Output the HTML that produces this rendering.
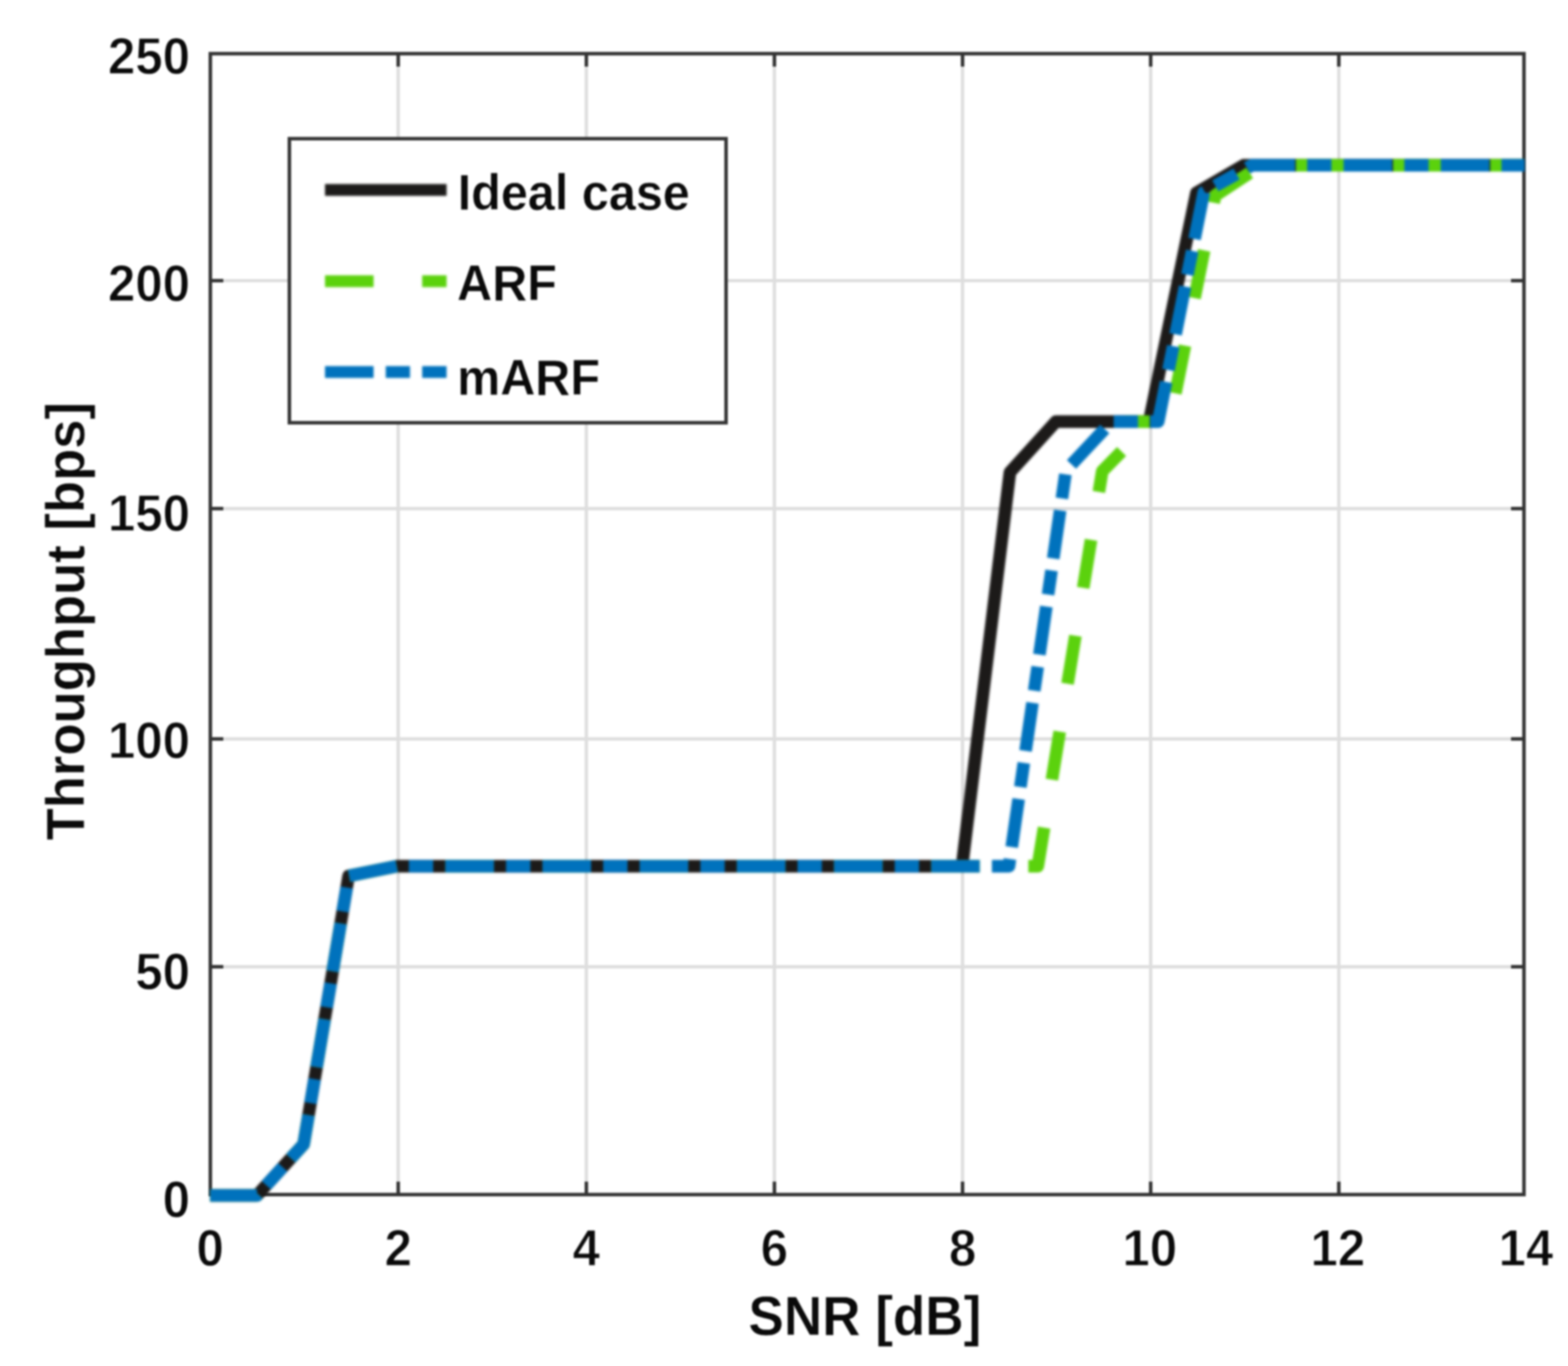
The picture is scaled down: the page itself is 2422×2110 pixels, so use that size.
<!DOCTYPE html>
<html lang="en"><head><meta charset="utf-8"><title>Throughput vs SNR</title>
<style>
html,body{margin:0;padding:0;background:#fff;}
body{width:2422px;height:2110px;overflow:hidden;}
svg{display:block;font-family:"Liberation Sans", Arial, Helvetica, sans-serif;font-weight:bold;fill:#0a0a0a;filter:blur(1.5px);}
text{stroke:#ffffff;stroke-width:0.6px;stroke-linejoin:round;}
text.t{stroke-width:1.2px;}
</style></head><body>
<svg width="2422" height="2110" viewBox="0 0 2422 2110">
<rect x="0" y="0" width="2422" height="2110" fill="#ffffff"/>
<g stroke="#dedede" stroke-width="5.2" fill="none">
<line x1="615.1" y1="82.9" x2="615.1" y2="1845.2"/>
<line x1="905.7" y1="82.9" x2="905.7" y2="1845.2"/>
<line x1="1196.2" y1="82.9" x2="1196.2" y2="1845.2"/>
<line x1="1486.8" y1="82.9" x2="1486.8" y2="1845.2"/>
<line x1="1777.4" y1="82.9" x2="1777.4" y2="1845.2"/>
<line x1="2068.0" y1="82.9" x2="2068.0" y2="1845.2"/>
<line x1="324.9" y1="1493.3" x2="2354.0" y2="1493.3"/>
<line x1="324.9" y1="1141.4" x2="2354.0" y2="1141.4"/>
<line x1="324.9" y1="785.6" x2="2354.0" y2="785.6"/>
<line x1="324.9" y1="433.5" x2="2354.0" y2="433.5"/>
</g>
<g stroke="#333333" stroke-width="5.4" fill="none">
<rect x="324.9" y="82.9" width="2029.1" height="1762.3"/>
<line x1="615.1" y1="1845.2" x2="615.1" y2="1825.2"/>
<line x1="615.1" y1="82.9" x2="615.1" y2="102.9"/>
<line x1="905.7" y1="1845.2" x2="905.7" y2="1825.2"/>
<line x1="905.7" y1="82.9" x2="905.7" y2="102.9"/>
<line x1="1196.2" y1="1845.2" x2="1196.2" y2="1825.2"/>
<line x1="1196.2" y1="82.9" x2="1196.2" y2="102.9"/>
<line x1="1486.8" y1="1845.2" x2="1486.8" y2="1825.2"/>
<line x1="1486.8" y1="82.9" x2="1486.8" y2="102.9"/>
<line x1="1777.4" y1="1845.2" x2="1777.4" y2="1825.2"/>
<line x1="1777.4" y1="82.9" x2="1777.4" y2="102.9"/>
<line x1="2068.0" y1="1845.2" x2="2068.0" y2="1825.2"/>
<line x1="2068.0" y1="82.9" x2="2068.0" y2="102.9"/>
<line x1="324.9" y1="1493.3" x2="344.9" y2="1493.3"/>
<line x1="2354.0" y1="1493.3" x2="2334.0" y2="1493.3"/>
<line x1="324.9" y1="1141.4" x2="344.9" y2="1141.4"/>
<line x1="2354.0" y1="1141.4" x2="2334.0" y2="1141.4"/>
<line x1="324.9" y1="785.6" x2="344.9" y2="785.6"/>
<line x1="2354.0" y1="785.6" x2="2334.0" y2="785.6"/>
<line x1="324.9" y1="433.5" x2="344.9" y2="433.5"/>
<line x1="2354.0" y1="433.5" x2="2334.0" y2="433.5"/>
</g>
<g fill="none" stroke-width="19.5" stroke-linejoin="round" stroke-linecap="butt" style="filter:blur(1.7px)">
<polyline stroke="#1c1a19" points="324.5,1846.5 397.0,1846.5 469.0,1767.5 538.5,1353.0 613.0,1338.0 1486.0,1338.0 1560.0,729.5 1631.0,651.3 1775.0,651.3 1848.0,298.0 1921.0,255.3 2355.0,255.3"/>
<polyline stroke="#5bd20d" stroke-dasharray="75.05 75.05" points="324.5,1846.5 397.0,1846.5 469.0,1767.5 538.5,1353.0 613.0,1338.0 1603.0,1338.0 1702.6,727.8 1777.6,651.3"/>
<polyline stroke="#5bd20d" points="1738.0,651.3 1775.6,651.3"/>
<polyline stroke="#5bd20d" stroke-dasharray="75.05 75.05" stroke-dashoffset="105.4" points="1806.7,651.3 1877.0,302.0 1948.0,255.3 2355.0,255.3"/>
<polyline stroke="#0072bd" stroke-dasharray="75.05 18.76 37.53 18.76" points="324.5,1846.5 397.0,1846.5 469.0,1767.5 538.5,1353.0 613.0,1338.0 1558.5,1338.0 1646.5,726.5 1717.0,651.3 1789.0,651.3 1859.5,297.0 1934.0,255.3 2355.0,255.3"/>
</g>
<text class="t" transform="translate(324.5,1954.9) scale(1,1.06)" font-size="76" text-anchor="middle">0</text>
<text class="t" transform="translate(615.1,1954.9) scale(1,1.06)" font-size="76" text-anchor="middle">2</text>
<text class="t" transform="translate(905.7,1954.9) scale(1,1.06)" font-size="76" text-anchor="middle">4</text>
<text class="t" transform="translate(1196.2,1954.9) scale(1,1.06)" font-size="76" text-anchor="middle">6</text>
<text class="t" transform="translate(1486.8,1954.9) scale(1,1.06)" font-size="76" text-anchor="middle">8</text>
<text class="t" transform="translate(1775.9,1954.9) scale(1,1.06)" font-size="76" text-anchor="middle">10</text>
<text class="t" transform="translate(2066.5,1954.9) scale(1,1.06)" font-size="76" text-anchor="middle">12</text>
<text class="t" transform="translate(2357.1,1954.9) scale(1,1.06)" font-size="76" text-anchor="middle">14</text>
<text class="t" transform="translate(293.6,114.0) scale(1,1.06)" font-size="76" text-anchor="end">250</text>
<text class="t" transform="translate(293.6,464.5) scale(1,1.06)" font-size="76" text-anchor="end">200</text>
<text class="t" transform="translate(293.6,820.3) scale(1,1.06)" font-size="76" text-anchor="end">150</text>
<text class="t" transform="translate(293.6,1171.3) scale(1,1.06)" font-size="76" text-anchor="end">100</text>
<text class="t" transform="translate(293.6,1528.4) scale(1,1.06)" font-size="76" text-anchor="end">50</text>
<text class="t" transform="translate(293.6,1880.3) scale(1,1.06)" font-size="76" text-anchor="end">0</text>
<text transform="translate(1336.0,2062.0) scale(1,1.03)" font-size="82" text-anchor="middle">SNR [dB]</text>
<text transform="translate(130.0,959.5) rotate(-90) scale(1,1.03)" font-size="81.3" text-anchor="middle">Throughput [bps]</text>
<rect x="447" y="214.2" width="674.5" height="438.8" fill="#ffffff" stroke="#333333" stroke-width="5.4"/>
<g fill="none" stroke-width="18.2" style="filter:blur(1.7px)">
<line x1="502" y1="293.3" x2="689.8" y2="293.3" stroke="#1c1a19"/>
<line x1="502" y1="434.3" x2="689.8" y2="434.3" stroke="#5bd20d" stroke-dasharray="75.05 75.05"/>
<line x1="502" y1="574.6" x2="689.8" y2="574.6" stroke="#0072bd" stroke-dasharray="75.05 18.76 37.53 18.76"/>
</g>
<text transform="translate(707.0,323.9) scale(1,1.03)" font-size="75" text-anchor="start">Ideal case</text>
<text transform="translate(706.0,464.2) scale(1,1.03)" font-size="75" text-anchor="start">ARF</text>
<text transform="translate(706.0,609.9) scale(1,1.03)" font-size="75" text-anchor="start">mARF</text>
</svg>
</body></html>
